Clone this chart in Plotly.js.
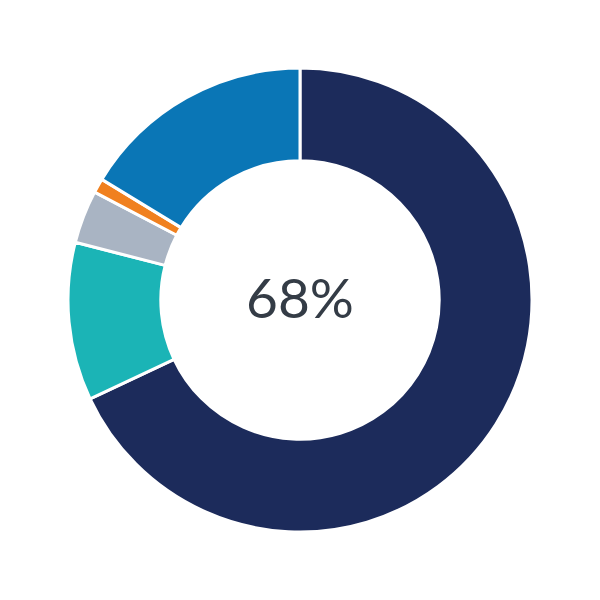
<!DOCTYPE html>
<html><head><meta charset="utf-8">
<script src="https://cdn.plot.ly/plotly-3.0.1.min.js"></script>
<style>html,body{margin:0;padding:0;background:#fff;}#chart{width:600px;height:600px;}</style>
</head><body><div id="chart"></div>
<script>
const labels = ["Navy", "Teal", "Gray", "Orange", "Blue"];
const values = [68, 11, 3.7, 1, 16.3];
const colors = ["#1c2b5b", "#1bb4b6", "#a9b4c3", "#f0801f", "#0a76b6"];
const centerLabel = "68%";

Plotly.newPlot("chart", [{
  type: "pie",
  labels: labels,
  values: values,
  hole: 0.6,
  sort: false,
  direction: "clockwise",
  rotation: 0,
  textinfo: "none",
  hoverinfo: "none",
  marker: {colors: colors, line: {color: "#ffffff", width: 3}},
  showlegend: false
}], {
  width: 600, height: 600,
  margin: {l: 68, r: 68, t: 68, b: 68},
  paper_bgcolor: "#ffffff",
  annotations: [{
    text: centerLabel, x: 0.5, y: 0.5, xref: "paper", yref: "paper", yshift: 3,
    showarrow: false, font: {family: "Lato", size: 55, weight: 400, color: "#343c46"}
  }]
}, {staticPlot: true});
</script></body></html>
